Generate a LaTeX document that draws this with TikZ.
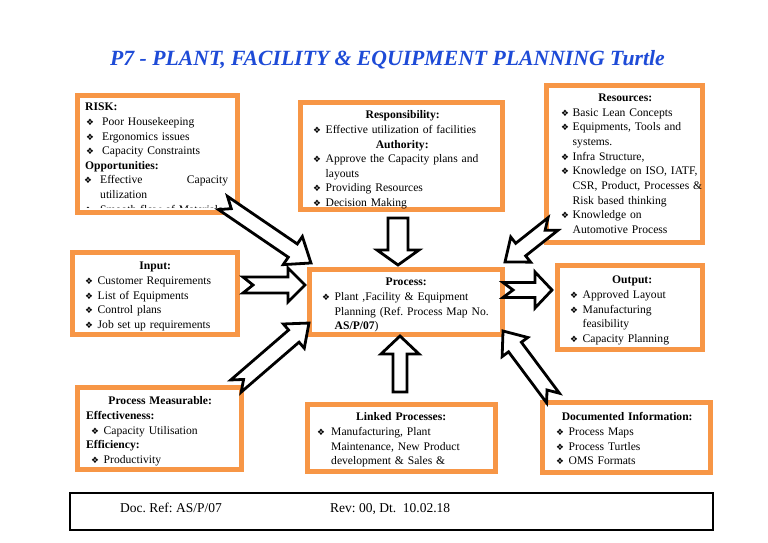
\documentclass[tikz,border=0pt]{standalone}
\usepackage{fontspec}
\setmainfont{Liberation Serif}
\newfontfamily\symfont{DejaVu Sans}
\usetikzlibrary{calc}
\frenchspacing
\definecolor{boxorange}{RGB}{247,150,70}
\definecolor{titleblue}{RGB}{30,75,215}
\newlength\bulw
\setlength\bulw{12.5pt}
\newcommand\bulglyph{{\symfont\fontsize{8.8}{8.8}\selectfont ❖}}
\newcommand\itm[2][0pt]{\par\noindent\hspace*{#1}\makebox[\bulw][l]{\bulglyph}#2}
\newcommand\cnt[2][0pt]{\par\noindent\hspace*{#1}\hspace*{\bulw}#2}
\newcommand\hd[1]{\par\noindent\textbf{#1}}
\newcommand\ctr[2]{\par\noindent\makebox[#1pt][c]{\textbf{#2}}}
\newcommand\blockarrow[6]{%
  \path let \p1=(#1), \p2=(#2) in \pgfextra{%
    \xdef\bax{\x1}\xdef\bay{\y1}%
    \pgfmathsetmacro\baangtmp{atan2(\y2-\y1,\x2-\x1)}\xdef\baang{\baangtmp}%
    \pgfmathsetmacro\balentmp{veclen(\x2-\x1,\y2-\y1)}\xdef\balen{\balentmp}};
  \begin{scope}[shift={(\bax,\bay)}, rotate=\baang]
    \path[arrowline] (0pt,#3pt) -- ({\balen pt-#5pt},#3pt) -- ({\balen pt-#5pt},#4pt)
      -- ({\balen pt},0pt) -- ({\balen pt-#5pt},-#4pt) -- ({\balen pt-#5pt},-#3pt)
      -- (0pt,-#3pt) -- (#6pt,0pt) -- cycle;
  \end{scope}}
\tikzset{
  box/.style={draw=boxorange, line width=5pt, fill=white, outer sep=0pt, inner sep=0pt},
  txt/.style={anchor=north west, inner sep=0pt, text width=230pt, align=left,
    font=\fontsize{11.6}{14.6}\selectfont},
  arrowline/.style={draw=black, line width=2.8pt, fill=white, line join=miter},
}
\begin{document}
\begin{tikzpicture}[x=1pt,y=-1pt]
\path[fill=white] (0,0) rectangle (768,543);
\useasboundingbox (0,0) rectangle (768,543);

\node[text=titleblue, font=\fontsize{21.7}{26}\selectfont\bfseries\itshape, inner sep=0pt] (title) at (387.5,60)
  {P7 - PLANT, FACILITY \& EQUIPMENT PLANNING Turtle};

% boxes
\node[box, minimum width=160pt, minimum height=117pt] (risk) at (157.5,154) {};
\node[box, minimum width=202pt, minimum height=107pt] (resp) at (401.5,156) {};
\node[box, minimum width=156pt, minimum height=157pt] (res) at (624.5,164) {};
\node[box, minimum width=165pt, minimum height=82pt] (input) at (155,293.5) {};
\node[box, minimum width=193pt, minimum height=65pt] (proc) at (406,302) {};
\node[box, minimum width=145pt, minimum height=84pt] (out) at (630,307.5) {};
\node[box, minimum width=164pt, minimum height=82pt] (meas) at (159.5,428.5) {};
\node[box, minimum width=188pt, minimum height=67pt] (link) at (401.5,438) {};
\node[box, minimum width=168pt, minimum height=70pt] (doc) at (626.5,437.5) {};

% texts
\begin{scope}
\clip ([shift={(2.5pt,-2.5pt)}]risk.north west) rectangle ([shift={(-2.5pt,5pt)}]risk.south east);
\node[txt] (riskT) at (85,96) {\setlength\bulw{16pt}%
  \hd{RISK:}
  \itm[1pt]{Poor Housekeeping}
  \itm[1pt]{Ergonomics issues}
  \itm[1pt]{Capacity Constraints}
  \hd{Opportunities:}
  \itm[-1pt]{\makebox[128pt][s]{Effective\hfill Capacity}}
  \cnt[-1pt]{utilization}
  \itm[-1pt]{Smooth flow of Materials}};
\end{scope}

\node[txt] (respT) at (313,104) {%
  \ctr{179}{Responsibility:}
  \itm{Effective utilization of facilities}
  \ctr{178}{Authority:}
  \itm{Approve the Capacity plans and}
  \cnt{layouts}
  \itm{Providing Resources}
  \itm{Decision Making}};

\node[txt] (resT) at (561,87) {\setlength\bulw{11.5pt}%
  \ctr{128}{Resources:}
  \itm{Basic Lean Concepts}
  \itm{Equipments, Tools and}
  \cnt{systems.}
  \itm{Infra Structure,}
  \itm{Knowledge on ISO, IATF,}
  \cnt{CSR, Product, Processes \&}
  \cnt{Risk based thinking}
  \itm{Knowledge on}
  \cnt{Automotive Process}};

\node[txt] (inputT) at (85,255) {%
  \ctr{140}{Input:}
  \itm{Customer Requirements}
  \itm{List of Equipments}
  \itm{Control plans}
  \itm{Job set up requirements}};

\node[txt] (procT) at (322,271) {%
  \ctr{168}{Process:}
  \itm{Plant ,Facility \& Equipment}
  \cnt{Planning (Ref. Process Map No.}
  \cnt{\textbf{AS/P/07})}};

\node[txt] (outT) at (570,269) {%
  \ctr{124}{Output:}
  \itm{Approved Layout}
  \itm{Manufacturing}
  \cnt{feasibility}
  \itm{Capacity Planning}};

\begin{scope}
\clip ([shift={(2.5pt,-2.5pt)}]meas.north west) rectangle ([shift={(-2.5pt,3.5pt)}]meas.south east);
\node[txt] (measT) at (86,390) {%
  \ctr{148}{Process Measurable:}
  \hd{Effectiveness:}
  \itm[5pt]{Capacity Utilisation}
  \hd{Efficiency:}
  \itm[5pt]{Productivity}};
\end{scope}

\begin{scope}
\clip ([shift={(2.5pt,-2.5pt)}]link.north west) rectangle ([shift={(-2.5pt,2.5pt)}]link.south east);
\node[txt] (linkT) at (317,406) {\setlength\bulw{14pt}%
  \ctr{168}{Linked Processes:}
  \itm{Manufacturing, Plant}
  \cnt{Maintenance, New Product}
  \cnt{development \& Sales \&}};
\end{scope}

\node[txt] (docT) at (556,406) {%
  \ctr{142}{Documented Information:}
  \itm{Process Maps}
  \itm{Process Turtles}
  \itm{OMS Formats}};

% block arrows
\coordinate (a1s) at (223,203); \coordinate (a1e) at (311,263);
\coordinate (a2s) at (243,285); \coordinate (a2e) at (305,285);
\coordinate (a3s) at (398,218); \coordinate (a3e) at (398,265);
\coordinate (a4s) at (553,224); \coordinate (a4e) at (505,262);
\coordinate (a5s) at (503,290); \coordinate (a5e) at (552,290);
\coordinate (a6s) at (236,386); \coordinate (a6e) at (309,323);
\coordinate (a7s) at (400,392); \coordinate (a7e) at (400,336);
\coordinate (a8s) at (553,398); \coordinate (a8e) at (503,331);
\blockarrow{a1s}{a1e}{8}{17}{22}{10}
\blockarrow{a2s}{a2e}{8}{17}{17}{10}
\blockarrow{a3s}{a3e}{10}{21}{15}{0}
\blockarrow{a4s}{a4e}{8}{16}{20}{10}
\blockarrow{a5s}{a5e}{7.5}{18}{17}{10}
\blockarrow{a6s}{a6e}{8}{16}{20}{10}
\blockarrow{a7s}{a7e}{7}{19}{18}{0}
\blockarrow{a8s}{a8e}{8}{16}{20}{10}

% bottom bar
\node[draw=black, line width=1.8pt, minimum width=643pt, minimum height=37pt, inner sep=0pt] (bar) at (391.5,511.5) {};
\node[anchor=base west, inner sep=0pt, font=\fontsize{13.5}{16}\selectfont] (docref) at (120,512) {Doc. Ref: AS/P/07};
\node[anchor=base west, inner sep=0pt, font=\fontsize{13.5}{16}\selectfont] (rev) at (330,512) {Rev: 00, Dt.\ \ 10.02.18};
\end{tikzpicture}
\end{document}
